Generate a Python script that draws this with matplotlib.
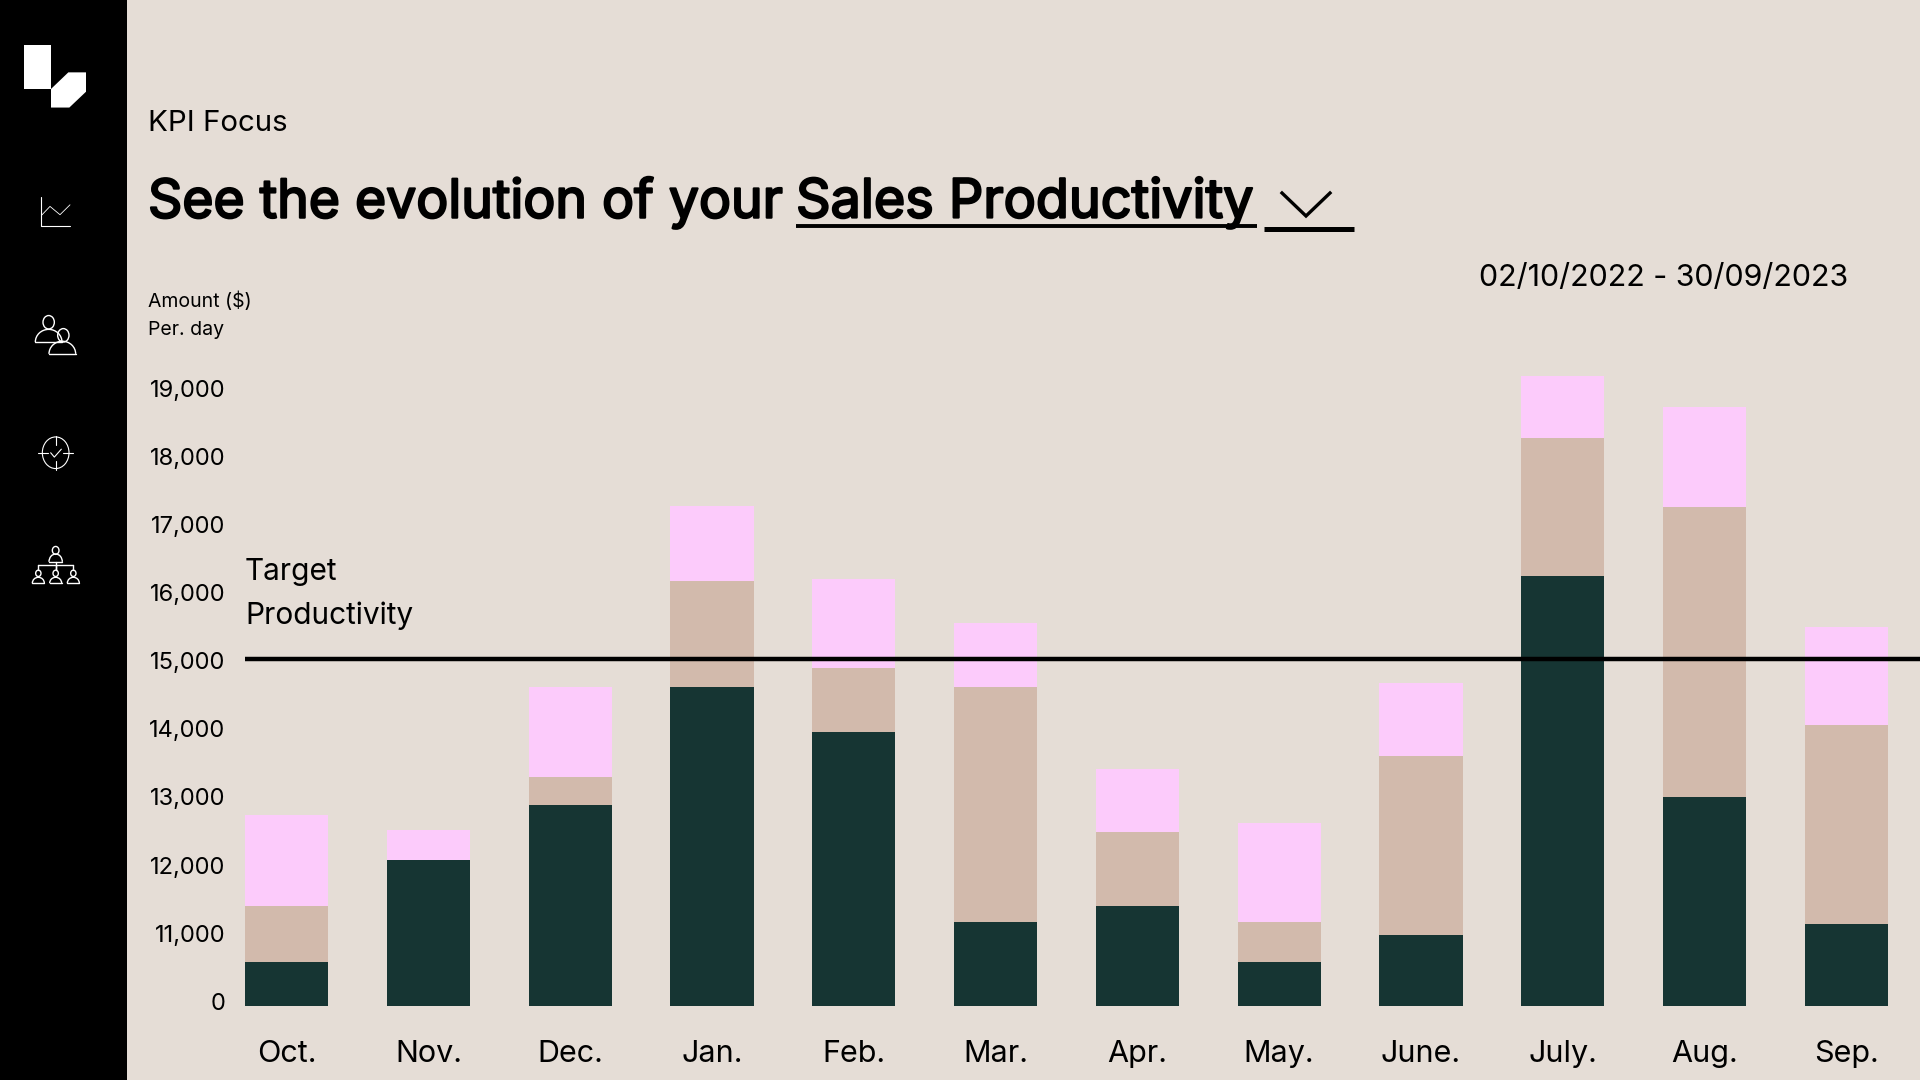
import matplotlib
matplotlib.use("Agg")
import matplotlib.pyplot as plt
import matplotlib.patches as mpatches
import matplotlib.patheffects as pe
import matplotlib.transforms as mtrans
import numpy as np

months = ["Oct.", "Nov.", "Dec.", "Jan.", "Feb.", "Mar.", "Apr.", "May.", "June.", "July.", "Aug.", "Sep."]
# tops of each stacked segment
dark_top = [10540, 12050, 12860, 14590, 13920, 11130, 11370, 10540, 10950, 16220, 12970, 11100]
tan_top = [11370, 12050, 13270, 16150, 14860, 14590, 12450, 11130, 13580, 18240, 17230, 14030]
pink_top = [12700, 12480, 14590, 17250, 16170, 15520, 13380, 12590, 14640, 19160, 18700, 15470]
y_ticks = [10000, 11000, 12000, 13000, 14000, 15000, 16000, 17000, 18000, 19000]
y_labels = ["0", "11,000", "12,000", "13,000", "14,000", "15,000", "16,000", "17,000", "18,000", "19,000"]
target = 15000
y_floor = 9900

BG = "#E5DDD6"
DARK = "#163533"
TAN = "#D2BAAC"
PINK = "#FCCBFB"

plt.rcParams["font.family"] = ["Inter", "DejaVu Sans"]

fig = plt.figure(figsize=(19.2, 10.8), dpi=100, facecolor=BG)

# overlay in pixel coords for the sidebar and headings
ui = fig.add_axes([0, 0, 1, 1], zorder=3)
ui.set_xlim(0, 1920)
ui.set_ylim(1080, 0)
ui.axis("off")
ui.patch.set_alpha(0)

# chart
ax = fig.add_axes([245 / 1920, 74 / 1080, (1920 - 245) / 1920, (1006 - 343) / 1080], facecolor="none")
x = np.arange(len(months))
dark_top = np.array(dark_top)
tan_top = np.array(tan_top)
pink_top = np.array(pink_top)
w = 0.587
ax.bar(x, dark_top - y_floor, bottom=y_floor, width=w, color=DARK)
ax.bar(x, tan_top - dark_top, bottom=dark_top, width=w, color=TAN)
ax.bar(x, pink_top - tan_top, bottom=tan_top, width=w, color=PINK)
ax.axhline(target, color="black", lw=3.2, zorder=5)
ax.set_xlim(-0.2935, 11.52)
ax.set_ylim(y_floor, 19640)
for s in ax.spines.values():
    s.set_visible(False)
ax.set_xticks(x)
ax.set_xticklabels(months, fontsize=22)
ax.set_yticks(y_ticks)
ax.set_yticklabels(y_labels, fontsize=17)
ax.tick_params(axis="both", length=0)
ax.tick_params(axis="x", pad=24.5)
ax.tick_params(axis="y", pad=14)
shift = mtrans.ScaledTranslation(0, -2 / 100, fig.dpi_scale_trans)
for lab in ax.get_yticklabels():
    lab.set_transform(lab.get_transform() + shift)

# sidebar
ui.add_patch(mpatches.Rectangle((0, 0), 127, 1080, color="black", lw=0))

SX = 3
SY = 1568 / 620  # the zoom crop came back squeezed vertically


def z(*pts):
    # crop coords to pixels
    return [(a / SX, b / SY) for a, b in pts]


def stroke(*pts, lw=1.0):
    p = z(*pts)
    ui.plot([q[0] for q in p], [q[1] for q in p], color="white", lw=lw, solid_capstyle="round")


def ring(cx, cy, r, lw=1.0):
    ui.add_patch(mpatches.Ellipse((cx / SX, cy / SY), 2 * r / SX, 2 * r / SY, fill=False, ec="white", lw=lw))


def dome(cx, cy, rx, h, lw=1.0):
    ui.add_patch(mpatches.Arc((cx / SX, cy / SY), 2 * rx / SX, 2 * h / SY, theta1=180, theta2=360, ec="white", lw=lw))
    stroke((cx - rx, cy), (cx + rx, cy), lw=lw)


# logo
ui.add_patch(mpatches.Polygon(z((73, 113), (153, 113), (153, 225), (73, 225)), color="white", lw=0))
ui.add_patch(mpatches.Polygon(z((153, 225), (205, 183), (258, 183), (258, 232), (208, 272), (153, 272)), color="white", lw=0))

# line chart icon
stroke((124, 498), (124, 572), (210, 572), lw=0.8)
stroke((124, 545), (150, 522), (180, 543), (210, 518), lw=0.6)

# people icon
ring(146, 815, 17)
dome(146, 865, 40, 32)
ring(190, 848, 17)
dome(187, 895, 40, 32)

# target icon
ring(167, 1145, 40, lw=0.8)
stroke((167, 1102), (167, 1125), lw=0.8)
stroke((167, 1165), (167, 1188), lw=0.8)
stroke((115, 1145), (145, 1145), lw=0.8)
stroke((190, 1145), (218, 1145), lw=0.8)
stroke((152, 1145), (163, 1156), (184, 1136), lw=0.8)

# org icon
ring(167, 1392, 10)
dome(167, 1421, 20, 20)
stroke((167, 1421), (167, 1442))
stroke((115, 1430), (220, 1430))
for cx in [115, 167, 220]:
    stroke((cx, 1430), (cx, 1442))
    ring(cx, 1450, 8)
    dome(cx, 1475, 18, 15)

# headings
heavy = [pe.withStroke(linewidth=1.6, foreground="black")]
ui.text(148, 123.5, "KPI Focus", fontsize=21.2, va="center", ha="left", color="black")
ui.text(148, 202.5, "See the evolution of your", fontsize=38.5, va="center", ha="left", color="black", path_effects=heavy)
ui.text(796, 202.5, "Sales Productivity", fontsize=38.8, va="center", ha="left", color="black", path_effects=heavy)
ui.plot([796, 1257], [225.5, 225.5], color="black", lw=2.8, solid_capstyle="butt")
ui.plot([1264, 1354], [229, 229], color="black", lw=3.6, solid_capstyle="butt")
ui.plot([1282, 1306, 1330], [193, 216, 193], color="black", lw=2.4, solid_joinstyle="miter")
ui.text(1848, 278, "02/10/2022 - 30/09/2023", fontsize=21.9, va="center", ha="right", color="black")
ui.text(148, 301, "Amount ($)", fontsize=14, va="center", ha="left", color="black")
ui.text(148, 330, "Per. day", fontsize=14, va="center", ha="left", color="black")
ui.text(245, 572, "Target", fontsize=21.5, va="center", ha="left", color="black")
ui.text(245, 616, "Productivity", fontsize=21.5, va="center", ha="left", color="black")

fig.savefig("out.png", dpi=100, facecolor=BG)
